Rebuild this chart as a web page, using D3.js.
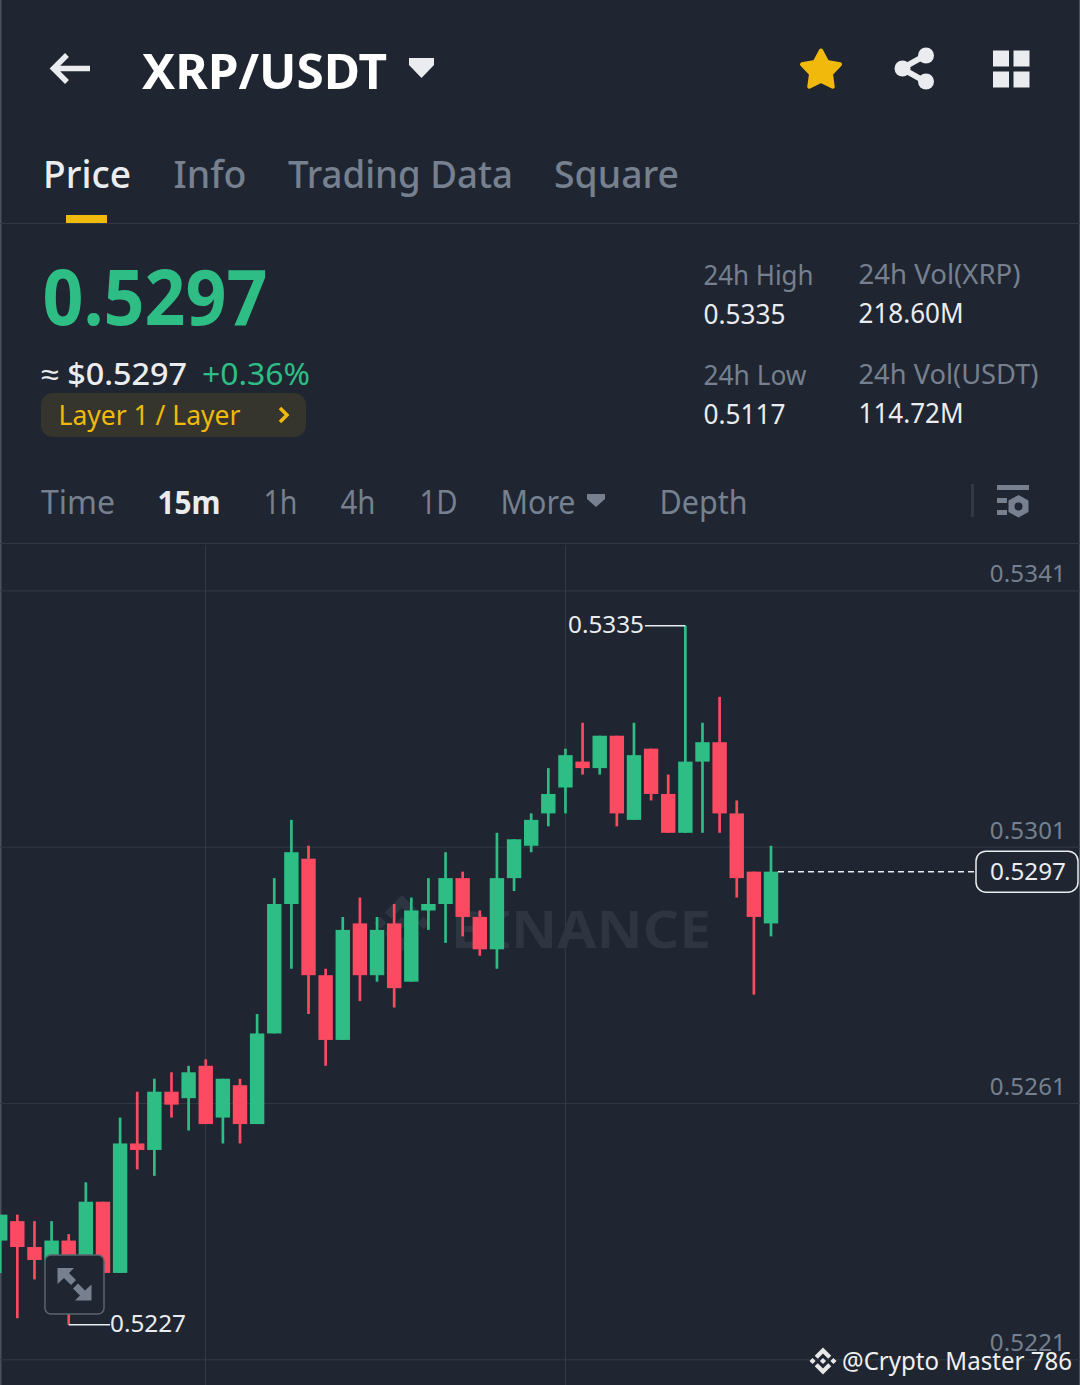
<!DOCTYPE html>
<html>
<head>
<meta charset="utf-8">
<title>XRP/USDT</title>
<script src="https://cdn.jsdelivr.net/npm/d3@7"></script>
<style>
  html, body { margin: 0; padding: 0; background: #1f2631; }
  svg { display: block; font-family: "Noto Sans", sans-serif; }
</style>
</head>
<body>
<svg width="1080" height="1385"></svg>
<script>
// 15m candles
const opens  = [0.5240,0.5243,0.5239,0.5237,0.5240,0.5237,0.5246,0.5235,0.5255,0.5254,0.5263,0.5262,0.5267,0.5259,0.5264,0.5258,0.5272,0.5292,0.5299,0.5281,0.5271,0.5289,0.5281,0.5289,0.5280,0.5291,0.5292,0.5296,0.5290,0.5285,0.5296,0.5301,0.5306,0.5310,0.5314,0.5313,0.5318,0.5305,0.5316,0.5309,0.5303,0.5314,0.5317,0.5306,0.5297,0.5289];
const highs  = [0.5244,0.5244,0.5243,0.5243,0.5241,0.5249,0.5246,0.5259,0.5263,0.5265,0.5266,0.5267,0.5268,0.5265,0.5265,0.5275,0.5296,0.5305,0.5301,0.5282,0.5290,0.5293,0.5290,0.5292,0.5293,0.5296,0.5300,0.5297,0.5291,0.5303,0.5302,0.5306,0.5313,0.5316,0.5320,0.5318,0.5318,0.5320,0.5316,0.5312,0.5335,0.5320,0.5324,0.5308,0.5297,0.5301];
const lows   = [0.5235,0.5228,0.5234,0.5237,0.5227,0.5237,0.5235,0.5235,0.5251,0.5250,0.5259,0.5257,0.5258,0.5255,0.5255,0.5258,0.5272,0.5282,0.5275,0.5267,0.5271,0.5277,0.5280,0.5276,0.5280,0.5288,0.5286,0.5287,0.5284,0.5282,0.5294,0.5300,0.5304,0.5306,0.5312,0.5312,0.5304,0.5305,0.5308,0.5303,0.5303,0.5303,0.5303,0.5293,0.5278,0.5287];
const closes = [0.5244,0.5239,0.5237,0.5240,0.5236,0.5246,0.5235,0.5255,0.5254,0.5263,0.5261,0.5266,0.5258,0.5265,0.5258,0.5272,0.5292,0.5300,0.5281,0.5271,0.5288,0.5281,0.5288,0.5279,0.5291,0.5292,0.5296,0.5290,0.5285,0.5296,0.5302,0.5305,0.5309,0.5315,0.5313,0.5318,0.5306,0.5315,0.5309,0.5303,0.5314,0.5317,0.5306,0.5296,0.5290,0.5297];

// horizontal grid sits slightly off the rounded labels
const gridValues = [0.53403, 0.53007, 0.52611, 0.52215];
const gridLabels = ["0.5341", "0.5301", "0.5261", "0.5221"];
const vGridCandles = [12, 33];

const lastPrice = 0.5297;
const highPrice = 0.5335;
const lowPrice = 0.5227;

const tabs = ["Price", "Info", "Trading Data", "Square"];
const intervals = ["Time", "15m", "1h", "4h", "1D", "More", "Depth"];

const BG = "#1f2631", GREEN = "#2ebd85", RED = "#fb4a61", YELLOW = "#f0b90b";
const GRAY = "#76808f", WHITE = "#eaecef", GRID = "#323945";
const LOGO = "M16.624 13.9202l2.7175 2.7154-7.353 7.353-7.353-7.352 2.7175-2.7164 4.6355 4.6595 4.6356-4.6595zm4.6366-4.6366L24 12l-2.7154 2.7164L18.5682 12l2.6924-2.7164zm-9.272.001l2.7163 2.6914-2.7164 2.7174v-.001L9.2721 12l2.7164-2.7154zm-9.2722-.001L5.4088 12l-2.6914 2.6924L0 12l2.7164-2.7164zM11.9885.0115l7.353 7.329-2.7174 2.7154-4.6356-4.6356-4.6355 4.6595-2.7174-2.7154 7.353-7.353z";

const svg = d3.select("svg");

// text helper, width keeps the run the same length as the screenshot
function label(x, y, str, size, color, width, weight) {
	const t = svg.append("text")
		.attr("x", x)
		.attr("y", y)
		.attr("font-size", size)
		.attr("fill", color)
		.attr("font-weight", weight || 400)
		.text(str);
	if (width) t.attr("textLength", width).attr("lengthAdjust", "spacingAndGlyphs");
	return t;
}

function logo(cx, cy, size, color) {
	svg.append("path")
		.attr("d", LOGO)
		.attr("fill", color)
		.attr("transform", `translate(${cx - size / 2},${cy - size / 2}) scale(${size / 24})`);
}

// background + the thin screen edges
svg.append("rect").attr("width", 1080).attr("height", 1385).attr("fill", BG);
svg.append("rect").attr("width", 1.5).attr("height", 1385).attr("fill", "#4a515d");
svg.append("rect").attr("x", 1079).attr("width", 1).attr("height", 1385).attr("fill", "#4a515d");

// ---- top bar ----
svg.append("path")
	.attr("d", "M90,68.5H54M67,55L53.5,68.5L67,82")
	.attr("fill", "none")
	.attr("stroke", WHITE)
	.attr("stroke-width", 5.5);
label(142, 88.5, "XRP/USDT", 49, "#fff", 245, 700);
svg.append("path").attr("d", "M409,58H434V65L421.5,78L409,65Z").attr("fill", WHITE);

// star, fatter than d3.symbolStar
const starPoints = d3.range(10).map(i => [i * Math.PI / 5, i % 2 ? 10.5 : 20]);
svg.append("path")
	.attr("d", d3.lineRadial().curve(d3.curveLinearClosed)(starPoints))
	.attr("transform", "translate(821,70.5)")
	.attr("fill", YELLOW)
	.attr("stroke", YELLOW)
	.attr("stroke-width", 4)
	.attr("stroke-linejoin", "round");

svg.append("path")
	.attr("d", "M926,55L902,68.5L926,82")
	.attr("fill", "none")
	.attr("stroke", WHITE)
	.attr("stroke-width", 6);
[[926, 55.5], [926, 81.5], [902.5, 68.5]].forEach(c => {
	svg.append("circle").attr("cx", c[0]).attr("cy", c[1]).attr("r", 8).attr("fill", WHITE);
});

[[993, 50.5], [1013.5, 50.5], [993, 71.5], [1013.5, 71.5]].forEach(c => {
	svg.append("rect").attr("x", c[0]).attr("y", c[1]).attr("width", 16).attr("height", 16).attr("fill", WHITE);
});

// ---- tabs ----
const tabX = [43, 173.5, 288, 554], tabW = [88, 73, 225, 125];
tabs.forEach((d, i) => label(tabX[i], 187.5, d, 38, i === 0 ? WHITE : GRAY, tabW[i], 500));
svg.append("rect").attr("x", 66).attr("y", 215).attr("width", 41).attr("height", 8).attr("fill", YELLOW);
svg.append("line").attr("x1", 0).attr("x2", 1080).attr("y1", 223.5).attr("y2", 223.5).attr("stroke", GRID);

// ---- price block ----
label(42.5, 325, "0.5297", 77, GREEN, 225, 700);
label(41, 384.5, "≈ $0.5297", 31, WHITE, 146, 500);
label(202, 384.5, "+0.36%", 31, GREEN, 108);
svg.append("rect").attr("x", 41).attr("y", 393).attr("width", 265).attr("height", 44).attr("rx", 12).attr("fill", "#36352d");
label(58.5, 425, "Layer 1 / Layer", 28, YELLOW, 182);
svg.append("path").attr("d", "M280,408L287,415L280,422").attr("fill", "none").attr("stroke", YELLOW).attr("stroke-width", 3.5);

label(703.5, 285, "24h High", 28, GRAY, 110);
label(703.5, 324, "0.5335", 28, WHITE, 82);
label(858.5, 283.5, "24h Vol(XRP)", 28, GRAY, 162);
label(858.5, 323, "218.60M", 28, WHITE, 105);
label(703.5, 385, "24h Low", 28, GRAY, 103);
label(703.5, 424, "0.5117", 28, WHITE, 82);
label(858.5, 384, "24h Vol(USDT)", 28, GRAY, 180);
label(858.5, 423, "114.72M", 28, WHITE, 105);

// ---- interval row ----
const intervalX = [41, 157.5, 263.5, 340.5, 419.5, 500.5, 659.5], intervalW = [74, 63, 34, 35, 38, 75, 88];
intervals.forEach((d, i) => label(intervalX[i], 514, d, 32, i === 1 ? WHITE : GRAY, intervalW[i], i === 1 ? 700 : 400));
svg.append("path").attr("d", "M587,494H605V499L596,507L587,499Z").attr("fill", GRAY);
svg.append("rect").attr("x", 971).attr("y", 484).attr("width", 3).attr("height", 33).attr("fill", GRID);

// settings icon
[[997, 485, 32], [997, 498, 10], [997, 510, 10]].forEach(r => {
	svg.append("rect").attr("x", r[0]).attr("y", r[1]).attr("width", r[2]).attr("height", 5).attr("fill", GRAY);
});
svg.append("path").attr("d", "M1018.5,495L1028.5,500.5V512L1018.5,517.5L1008.5,512V500.5Z").attr("fill", GRAY);
svg.append("circle").attr("cx", 1018.5).attr("cy", 506.5).attr("r", 4).attr("fill", BG);
svg.append("line").attr("x1", 0).attr("x2", 1080).attr("y1", 543.5).attr("y2", 543.5).attr("stroke", GRID);

// ---- chart ----
const x = d3.scaleLinear().domain([0, opens.length - 1]).range([0.2, 771]);
const y = d3.scaleLinear().domain([lowPrice, highPrice]).range([1324.7, 625.7]);

// vertical grid
svg.append("g").selectAll("line")
	.data(vGridCandles)
	.join("line")
	.attr("x1", d => Math.floor(x(d)) + 0.5)
	.attr("x2", d => Math.floor(x(d)) + 0.5)
	.attr("y1", 545)
	.attr("y2", 1385)
	.attr("stroke", GRID);

// horizontal grid and price labels
const yAxis = svg.append("g")
	.attr("transform", "translate(1080,-1)")
	.call(d3.axisLeft(y).tickValues(gridValues).tickFormat((d, i) => gridLabels[i]).tickSize(1080));
yAxis.select(".domain").remove();
yAxis.selectAll("line").attr("stroke", GRID);
yAxis.selectAll("text")
	.attr("x", -14)
	.attr("dy", -8.5)
	.attr("font-family", '"Noto Sans", sans-serif')
	.attr("font-size", 24)
	.attr("letter-spacing", 0.2)
	.attr("fill", GRAY);

// watermark
logo(402, 923, 56, "#2e3440");
label(451, 948, "BINANCE", 52, "#2e3440", 260, 700);

// candles
const color = i => closes[i] >= opens[i] ? GREEN : RED;
const idx = d3.range(opens.length);

svg.append("g").selectAll("line")
	.data(idx)
	.join("line")
	.attr("x1", i => x(i))
	.attr("x2", i => x(i))
	.attr("y1", i => y(highs[i]))
	.attr("y2", i => y(lows[i]))
	.attr("stroke", color)
	.attr("stroke-width", 2.7);

svg.append("g").selectAll("rect")
	.data(idx)
	.join("rect")
	.attr("x", i => x(i) - 7.2)
	.attr("y", i => y(Math.max(opens[i], closes[i])))
	.attr("width", 14.4)
	.attr("height", i => Math.abs(y(opens[i]) - y(closes[i])))
	.attr("fill", color);

// high / low markers
const highIdx = highs.indexOf(highPrice), lowIdx = lows.indexOf(lowPrice);
svg.append("line")
	.attr("x1", 645).attr("x2", x(highIdx))
	.attr("y1", y(highPrice)).attr("y2", y(highPrice))
	.attr("stroke", WHITE).attr("stroke-width", 1.5);
label(568, y(highPrice) + 7.5, "0.5335", 24, WHITE, 76);

// expand button, covers the lower bodies of a few candles
svg.append("line")
	.attr("x1", x(lowIdx)).attr("x2", 110)
	.attr("y1", y(lowPrice)).attr("y2", y(lowPrice))
	.attr("stroke", WHITE).attr("stroke-width", 1.5);
label(110, y(lowPrice) + 7.5, "0.5227", 24, WHITE, 76);

svg.append("rect")
	.attr("x", 45).attr("y", 1255)
	.attr("width", 59).attr("height", 59)
	.attr("rx", 6)
	.attr("fill", BG)
	.attr("stroke", "#5c6470")
	.attr("stroke-width", 1.5);
svg.append("path")
	.attr("d", "M57.5,1268H74L69,1273L76,1280L71,1285L64,1278L57.5,1284ZM91.5,1300.5H75L80,1295.5L73,1288.5L78,1283.5L85,1290.5L91.5,1284.5Z")
	.attr("fill", GRAY);

// last price line and tag
svg.append("line")
	.attr("x1", x(opens.length - 1) + 7).attr("x2", 975)
	.attr("y1", y(lastPrice)).attr("y2", y(lastPrice))
	.attr("stroke", WHITE)
	.attr("stroke-width", 1.5)
	.attr("stroke-dasharray", "6,4");
svg.append("rect")
	.attr("x", 976).attr("y", y(lastPrice) - 20.5)
	.attr("width", 102).attr("height", 41)
	.attr("rx", 10)
	.attr("fill", BG)
	.attr("stroke", WHITE)
	.attr("stroke-width", 1.5);
label(990, y(lastPrice) + 8.5, "0.5297", 24, WHITE, 76);

// author mark in the corner
logo(823, 1361, 27, "#e8e8e8");
label(842, 1369.5, "@Crypto Master 786", 25.5, "#f0f0f0", 230);
</script>
</body>
</html>
